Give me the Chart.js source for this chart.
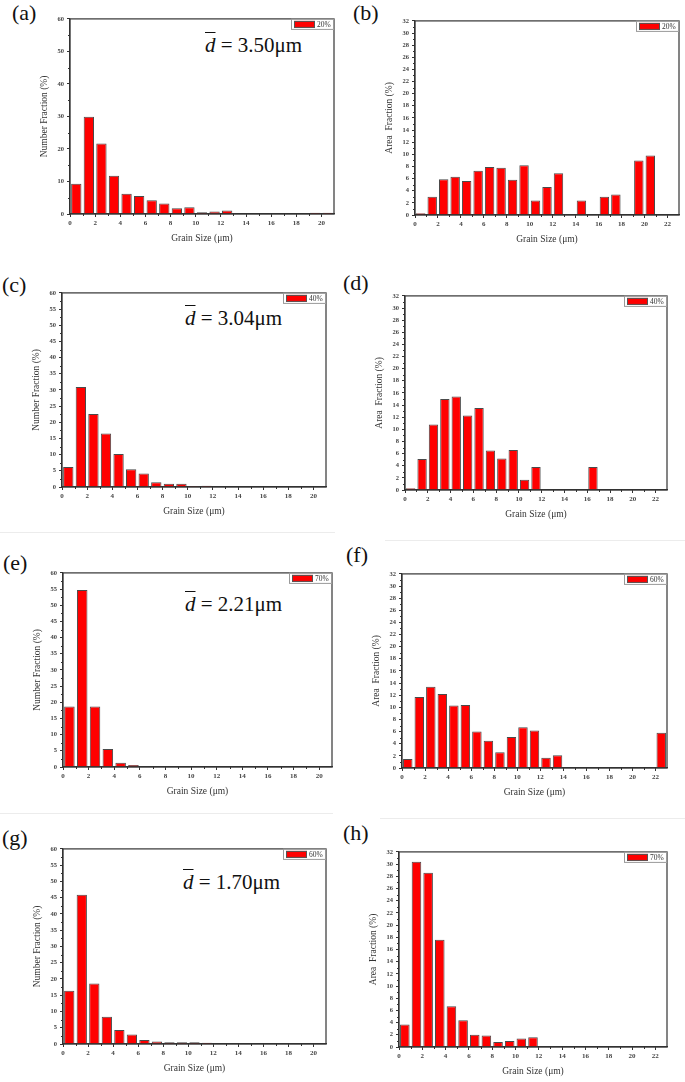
<!DOCTYPE html>
<html>
<head>
<meta charset="utf-8">
<script src="https://cdn.jsdelivr.net/npm/chart.js@4.4.0/dist/chart.umd.min.js"></script>
<style>
  body { margin: 0; background: #fff; width: 685px; height: 1082px; position: relative; overflow: hidden; font-family: "Liberation Serif", serif; }
  .panel { position: absolute; }
  .lbl { position: absolute; font-size: 22px; line-height: 22px; color: #111; white-space: nowrap; }
  .dbar { position: absolute; font-size: 21px; line-height: 21px; color: #111; white-space: nowrap; }
  .dbar i { text-decoration: overline; text-decoration-thickness: 1px; }
  .sep { position: absolute; height: 1px; background: #ececec; }
</style>
</head>
<body>

<div class="sep" style="left:0;top:532px;width:335px"></div>
<div class="sep" style="left:385px;top:540px;width:300px"></div>
<div class="sep" style="left:0;top:813px;width:333px"></div>
<div class="sep" style="left:380px;top:818px;width:305px"></div>

<div class="lbl" style="left:12px;top:2px">(a)</div>
<div class="lbl" style="left:353px;top:2px">(b)</div>
<div class="lbl" style="left:2px;top:274px">(c)</div>
<div class="lbl" style="left:343px;top:272px">(d)</div>
<div class="lbl" style="left:3px;top:552px">(e)</div>
<div class="lbl" style="left:346px;top:544px">(f)</div>
<div class="lbl" style="left:2px;top:827px">(g)</div>
<div class="lbl" style="left:343px;top:822px">(h)</div>

<div class="dbar" style="left:205px;top:35px"><i>d</i> = 3.50μm</div>
<div class="dbar" style="left:185px;top:308px"><i>d</i> = 3.04μm</div>
<div class="dbar" style="left:185px;top:594px"><i>d</i> = 2.21μm</div>
<div class="dbar" style="left:183px;top:872px"><i>d</i> = 1.70μm</div>

<script>
// bin centres (grain size, µm)
const numBins = [0.5, 1.5, 2.5, 3.5, 4.5, 5.5, 6.5, 7.5, 8.5, 9.5, 10.5, 11.5, 12.5, 13.5, 14.5, 15.5, 16.5, 17.5, 18.5, 19.5, 20.5];
const areaBins = [0.5, 1.5, 2.5, 3.5, 4.5, 5.5, 6.5, 7.5, 8.5, 9.5, 10.5, 11.5, 12.5, 13.5, 14.5, 15.5, 16.5, 17.5, 18.5, 19.5, 20.5, 21.5, 22.5];

// number fraction (%)
const numA = [9.3, 29.9, 21.7, 11.8, 6.2, 5.5, 4.2, 3.2, 1.8, 2.1, 0.5, 0.8, 1.1, 0, 0.2, 0, 0.2, 0.2, 0, 0.4, 0.4];
const numC = [6.2, 30.9, 22.6, 16.5, 10.2, 5.5, 4.2, 1.5, 1.0, 1.0, 0.3, 0.4, 0, 0, 0, 0, 0.2, 0, 0, 0, 0];
const numE = [18.7, 54.7, 18.7, 5.6, 1.3, 0.6, 0.2, 0.2, 0.1, 0.1, 0.1, 0.1, 0, 0, 0, 0, 0, 0, 0, 0, 0];
const numG = [16.4, 45.9, 18.6, 8.4, 4.3, 2.9, 1.2, 0.8, 0.5, 0.5, 0.5, 0.4, 0.2, 0.2, 0, 0, 0, 0, 0, 0, 0];

// area fraction (%)
const areaB = [0.3, 3.0, 5.9, 6.3, 5.6, 7.3, 7.9, 7.8, 5.8, 8.2, 2.4, 4.6, 6.9, 0, 2.4, 0, 3.0, 3.4, 0, 9.0, 9.8, 0, 0];
const areaD = [0.3, 5.1, 10.8, 15.0, 15.4, 12.3, 13.5, 6.5, 5.2, 6.6, 1.7, 3.8, 0, 0, 0, 0, 3.8, 0, 0, 0, 0, 0, 0];
const areaF = [1.5, 11.7, 13.4, 12.2, 10.3, 10.4, 6.0, 4.5, 2.6, 5.1, 6.7, 6.2, 1.7, 2.1, 0, 0, 0, 0, 0, 0, 0, 0, 5.8];
const areaH = [3.7, 30.4, 28.6, 17.6, 6.7, 4.4, 2.0, 1.9, 0.8, 1.0, 1.4, 1.6, 0, 0, 0, 0, 0, 0, 0, 0, 0, 0, 0];

const FONT = '"Liberation Serif", "Times New Roman", serif';
const AXIS = '#333';

// frame round the plot, minor ticks and the boxed legend in the corner
const framePlugin = {
  id: 'frame',
  afterDraw(chart) {
    const ctx = chart.ctx;
    const a = chart.chartArea;
    const xs = chart.scales.x, ys = chart.scales.y;
    ctx.save();
    ctx.strokeStyle = AXIS;
    ctx.lineWidth = 1.2;
    ctx.strokeRect(a.left, a.top, a.right - a.left, a.bottom - a.top);

    // minor ticks half way between the labelled ones
    ctx.lineWidth = 1;
    ctx.beginPath();
    const xStep = xs.options.ticks.stepSize;
    for (let v = xStep / 2; v < xs.max; v += xStep) {
      const px = Math.round(xs.getPixelForValue(v)) + 0.5;
      ctx.moveTo(px, a.bottom);
      ctx.lineTo(px, a.bottom + 2);
    }
    const yStep = ys.options.ticks.stepSize;
    for (let v = yStep / 2; v < ys.max; v += yStep) {
      const py = Math.round(ys.getPixelForValue(v)) + 0.5;
      ctx.moveTo(a.left, py);
      ctx.lineTo(a.left - 2, py);
    }
    ctx.stroke();

    // legend box
    const label = chart.data.datasets[0].label;
    ctx.font = '7.5px ' + FONT;
    const tw = ctx.measureText(label).width;
    const w = Math.round(26 + tw + 3), h = 11;
    const bx = a.right - w, by = a.top;
    ctx.fillStyle = '#fff';
    ctx.fillRect(bx, by, w, h);
    ctx.strokeStyle = '#999';
    ctx.strokeRect(bx + 0.5, by + 0.5, w - 1, h - 1);
    ctx.fillStyle = '#ff0000';
    ctx.fillRect(bx + 3, by + 2, 21, 7);
    ctx.strokeStyle = '#555';
    ctx.strokeRect(bx + 3.5, by + 2.5, 20, 6);
    ctx.fillStyle = '#333';
    ctx.textBaseline = 'middle';
    ctx.fillText(label, bx + 26, by + h / 2 + 0.5);
    ctx.restore();
  }
};

function makePanel(box, bins, values, label, yTitle, yMax, yStep, xMax) {
  const yw = 31, xh = 30, padT = 6, padR = 6;
  const div = document.createElement('div');
  div.className = 'panel';
  div.style.left = (box.L - yw) + 'px';
  div.style.top = (box.T - padT) + 'px';
  const canvas = document.createElement('canvas');
  canvas.width = box.R - box.L + yw + padR;
  canvas.height = box.B - box.T + padT + xh;
  div.appendChild(canvas);
  document.body.appendChild(div);

  const points = bins.map((b, i) => ({ x: b, y: values[i] }));

  new Chart(canvas.getContext('2d'), {
    type: 'bar',
    data: {
      datasets: [{
        label: label,
        data: points,
        backgroundColor: '#ff0000',
        borderColor: '#4a4a4a',
        borderWidth: 1,
        categoryPercentage: 1,
        barPercentage: 0.82
      }]
    },
    options: {
      responsive: false,
      animation: false,
      devicePixelRatio: 1,
      layout: { padding: { top: padT, right: padR, left: 0, bottom: 0 } },
      plugins: { legend: { display: false }, tooltip: { enabled: false } },
      scales: {
        x: {
          type: 'linear',
          min: 0,
          max: xMax,
          offset: false,
          grid: { offset: false, drawOnChartArea: false, tickLength: 3, tickColor: AXIS, tickWidth: 1 },
          border: { color: AXIS, width: 1.2 },
          ticks: { stepSize: 2, includeBounds: false, padding: 2, color: '#444', maxRotation: 0,
                   font: { family: FONT, size: 7, weight: 'bold' } },
          title: { display: true, text: 'Grain Size (μm)', color: '#333', padding: 0,
                   font: { family: FONT, size: 9.5 } },
          afterFit: s => { s.height = xh; }
        },
        y: {
          min: 0,
          max: yMax,
          grid: { drawOnChartArea: false, tickLength: 3, tickColor: AXIS, tickWidth: 1 },
          border: { color: AXIS, width: 1.2 },
          ticks: { stepSize: yStep, includeBounds: false, padding: 3, color: '#444',
                   font: { family: FONT, size: 6.5, weight: 'bold' } },
          title: { display: true, text: yTitle, color: '#333', padding: 0,
                   font: { family: FONT, size: 9.5 } },
          afterFit: s => { s.width = yw; }
        }
      }
    },
    plugins: [framePlugin]
  });
}

makePanel({ L: 70, R: 334, T: 18, B: 214 }, numBins, numA, '20%', 'Number Fraction (%)', 60, 10, 21);
makePanel({ L: 415, R: 679, T: 20, B: 215 }, areaBins, areaB, '20%', 'Area  Fraction (%)', 32, 2, 23);
makePanel({ L: 62, R: 326, T: 292, B: 487 }, numBins, numC, '40%', 'Number Fraction (%)', 60, 5, 21);
makePanel({ L: 405, R: 667, T: 295, B: 490 }, areaBins, areaD, '40%', 'Area  Fraction (%)', 32, 2, 23);
makePanel({ L: 63, R: 332, T: 572, B: 767 }, numBins, numE, '70%', 'Number Fraction (%)', 60, 5, 21);
makePanel({ L: 402, R: 667, T: 573, B: 768 }, areaBins, areaF, '60%', 'Area  Fraction (%)', 32, 2, 23);
makePanel({ L: 63, R: 326, T: 848, B: 1044 }, numBins, numG, '60%', 'Number Fraction (%)', 60, 5, 21);
makePanel({ L: 399, R: 667, T: 851, B: 1047 }, areaBins, areaH, '70%', 'Area  Fraction (%)', 32, 2, 23);
</script>
</body>
</html>
